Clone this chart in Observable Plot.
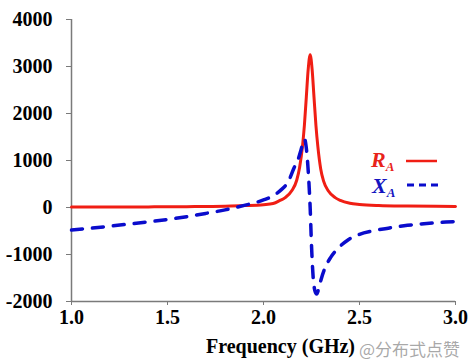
<!DOCTYPE html>
<html>
<head>
<meta charset="utf-8">
<script src="https://cdn.jsdelivr.net/npm/d3@7"></script>
<script src="https://cdn.jsdelivr.net/npm/@observablehq/plot@0.6"></script>
<style>
  html, body { margin: 0; padding: 0; background: white; }
  #wrap { position: relative; width: 474px; height: 364px; overflow: hidden; }
  .leg { position: absolute; font-family: "Liberation Serif", "Times New Roman", serif; font-weight: bold; font-style: italic; font-size: 22px; line-height: 1; }
  .leg sub { font-size: 13px; vertical-align: baseline; position: relative; top: 4px; }
  #wm { position: absolute; left: 359px; top: 336px; font-family: "Noto Sans CJK SC", "Noto Sans", sans-serif; font-size: 17px; color: rgba(140,140,140,0.75); white-space: nowrap; }
</style>
</head>
<body>
<div id="wrap"></div>
<script>
// Frequency (GHz) and values
const redFreq = [1.0,1.2,1.4,1.6,1.8,1.9,2.0,2.05,2.086,2.113,2.148,2.173,2.188,2.203,2.213,2.223,2.233,2.243,2.253,2.263,2.273,2.283,2.298,2.313,2.338,2.373,2.4,2.45,2.5,2.6,2.75,2.9,3.0];
const redVals = [8,10,13,18,28,40,60,85,150,210,360,580,850,1300,1750,2350,2950,3250,2950,2350,1750,1300,820,560,350,210,150,90,65,42,30,24,22];

const blueFreq = [1.0,1.1,1.2,1.3,1.4,1.5,1.6,1.7,1.8,1.9,2.0,2.05,2.09,2.13,2.16,2.18,2.195,2.207,2.214,2.222,2.23,2.237,2.243,2.25,2.258,2.267,2.277,2.288,2.3,2.32,2.35,2.39,2.44,2.5,2.57,2.65,2.75,2.85,2.95,3.0];
const blueVals = [-480,-440,-398,-352,-305,-255,-195,-125,-50,45,160,250,370,560,850,1020,1220,1400,1450,1300,950,500,0,-800,-1450,-1760,-1840,-1720,-1530,-1290,-1060,-860,-690,-570,-497,-440,-380,-340,-310,-298];

const xTicks = [1.0, 1.5, 2.0, 2.5, 3.0];
const yTicks = [-2000, -1000, 0, 1000, 2000, 3000, 4000];
const xLabel = "Frequency (GHz)";

const red = redFreq.map((f, i) => ({f, v: redVals[i]}));
const blue = blueFreq.map((f, i) => ({f, v: blueVals[i]}));

const axisGray = "#7a7a7a";
const serif = "'Liberation Serif', 'Times New Roman', serif";

const chart = Plot.plot({
  width: 474,
  height: 364,
  marginLeft: 71,
  marginRight: 19,
  marginTop: 19,
  marginBottom: 63,
  x: {domain: [xTicks[0], xTicks[xTicks.length - 1]]},
  y: {domain: [yTicks[0], yTicks[yTicks.length - 1]]},
  style: {fontFamily: serif, fontWeight: "bold", fontSize: "20px", background: "white", color: "black"},
  marks: [
    Plot.ruleX([xTicks[0]], {stroke: axisGray, strokeWidth: 1.5}),
    Plot.ruleY([yTicks[0]], {stroke: axisGray, strokeWidth: 1.5}),
    Plot.axisY(yTicks, {anchor: "left", tickSize: 5, tickPadding: 14, stroke: axisGray, fill: "black", fontSize: 20, fontWeight: "bold", tickFormat: d => String(d), label: null}),
    Plot.axisX(xTicks, {anchor: "bottom", tickSize: 4, tickPadding: 4, stroke: axisGray, fill: "black", fontSize: 20, fontWeight: "bold", tickFormat: d => d.toFixed(1), label: null}),
    Plot.text([xLabel], {frameAnchor: "bottom", dx: 17, dy: 51, lineAnchor: "bottom", fontSize: 20, fontWeight: "bold", fill: "black"}),
    Plot.line(red, {x: "f", y: "v", stroke: "#f01e14", strokeWidth: 3, curve: "monotone-x"}),
    Plot.line(blue, {x: "f", y: "v", stroke: "#0a0ccc", strokeWidth: 3.5, strokeDasharray: "11,10", strokeLinecap: "round", curve: "monotone-x"})
  ]
});

const wrap = document.getElementById("wrap");
wrap.appendChild(chart);

// Legend
const legR = document.createElement("div");
legR.className = "leg";
legR.style.left = "371px"; legR.style.top = "149px"; legR.style.color = "#e8231a";
legR.innerHTML = "R<sub>A</sub>";
wrap.appendChild(legR);
const legX = document.createElement("div");
legX.className = "leg";
legX.style.left = "372px"; legX.style.top = "175px"; legX.style.color = "#1414c0";
legX.innerHTML = "X<sub>A</sub>";
wrap.appendChild(legX);

const ns = "http://www.w3.org/2000/svg";
const lsvg = document.createElementNS(ns, "svg");
lsvg.setAttribute("width", "60"); lsvg.setAttribute("height", "40");
lsvg.style.position = "absolute"; lsvg.style.left = "400px"; lsvg.style.top = "150px";
lsvg.innerHTML = '<line x1="6" x2="37" y1="11" y2="11" stroke="#f01e14" stroke-width="2.5"/>' +
  '<line x1="7" x2="39" y1="35" y2="35" stroke="#0a0ccc" stroke-width="3" stroke-dasharray="7,5"/>';
wrap.appendChild(lsvg);

const wm = document.createElement("div");
wm.id = "wm";
wm.textContent = "@分布式点赞";
wrap.appendChild(wm);
</script>
</body>
</html>
